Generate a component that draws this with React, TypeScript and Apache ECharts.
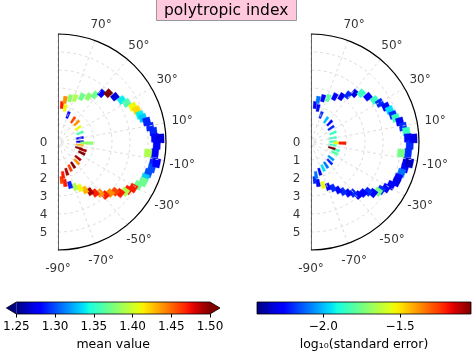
import React, { useEffect, useRef } from 'react';
import * as echarts from 'echarts';

// ---- data ----
const titleText = 'polytropic index';
const angleTickMin = -90;
const angleTickMax = 90;
const angleTickStep = 20;
const angleLabels = [-90, -70, -50, -30, -10, 10, 30, 50, 70];
const radiusMax = 6;
const radiusTicks = [0, 1, 2, 3, 4, 5];

// cell centres: angle (deg) and radius
const cellTheta = [84, 80.5, 74.6, 68.9, 62.4, 56.2, 51.8, 48.1, 44.1, 38.5, 33.4, 29.6, 25.2, 22.1, 18.2, 15.8, 12.9, 9.4, 6.2, 2.4, -1.7,
  -6.5, -11.7, -15.5, -18.9, -22.5, -25, -28.3, -31.5, -34.4, -36.6, -39.4, -41.1, -44.4, -48.4, -50.5, -54, -57.2, -60.6, -64.4, -69.2, -74.4, -80.3, -84.4,
  -81.4, -73.7, -65.2, -56.9, -46.5, -38.7, -24.9, -17.7, -7.8, 0.8, 10.3, 22.2, 35, 45.5, 55.7, 69.7, 78.4,
  -7, -12, 2, -2, -2, -16];
const cellR = [2.07, 2.37, 2.52, 2.62, 2.84, 3.03, 3.32, 3.63, 3.89, 4.04, 4.24, 4.39, 4.6, 4.72, 4.8, 4.9, 5.06, 5.18, 5.33, 5.39, 5.49,
  5.42, 5.41, 5.4, 5.3, 5.23, 5.23, 5.05, 4.89, 4.71, 4.63, 4.46, 4.2, 4.05, 3.94, 3.67, 3.5, 3.28, 3.06, 2.83, 2.66, 2.48, 2.31, 2.12,
  1.85, 1.72, 1.59, 1.53, 1.51, 1.42, 1.45, 1.46, 1.23, 1.22, 1.24, 1.32, 1.36, 1.48, 1.48, 1.6, 1.93,
  5.04, 5.6, 5.7, 1.45, 1.75, 1.2];
const meanValues = [1.47, 1.44, 1.38, 1.39, 1.37, 1.38, 1.37, 1.28, 1.5, 1.27, 1.34, 1.36, 1.41, 1.42, 1.34, 1.33, 1.29, 1.29, 1.29, 1.28, 1.28,
  1.28, 1.29, 1.30, 1.30, 1.33, 1.37, 1.37, 1.47, 1.47, 1.39, 1.47, 1.46, 1.44, 1.47, 1.44, 1.47, 1.49, 1.43, 1.41, 1.39, 1.29, 1.47, 1.46,
  1.47, 1.49, 1.46, 1.5, 1.44, 1.49, 1.5, 1.49, 1.43, 1.27, 1.28, 1.36, 1.41, 1.44, 1.46, 1.28, 1.41,
  1.39, 1.28, 1.27, 1.38, 1.38, 1.5];
const logStdErr = [-2.25, -2.1, -2.25, -1.8, -2.25, -2.3, -2.2, -2.3, -1.85, -2.25, -1.85, -2.2, -2.25, -1.95, -2.2, -1.85, -2.25, -2.2, -1.85, -2.25, -2.2,
  -2.2, -2.3, -2.25, -2.1, -2.25, -2.3, -2.25, -2.25, -2.2, -1.75, -2.25, -2.2, -2.25, -2.25, -2.2, -2.25, -2.2, -2.25, -2.2, -2.25, -1.55, -2.25, -2.2,
  -2.1, -2.25, -1.95, -2.1, -2.2, -2.05, -1.8, -1.85, -1.85, -1.85, -1.85, -1.85, -2.2, -2.25, -2.0, -2.2, -2.25,
  -1.75, -2.35, -2.3, -1.55, -1.2, -1.04];

const meanRange = [1.25, 1.5];
const meanTicks = [1.25, 1.3, 1.35, 1.4, 1.45, 1.5];
const errRange = [-2.43, -1.04];
const errTicks = [-2.0, -1.5];
const meanLabel = 'mean value';
const errLabel = 'log₁₀(standard error)';

// ---- styling constants ----
const CELL_DTHETA = 5;
const CELL_DR = 0.4;
const LABEL_R = 7.0;
const FONT = 'DejaVu Sans';

const JR = [[0, 0], [0.35, 0], [0.66, 1], [0.89, 1], [1, 0.5]];
const JG = [[0, 0], [0.125, 0], [0.375, 1], [0.64, 1], [0.91, 0], [1, 0]];
const JB = [[0, 0.5], [0.11, 1], [0.34, 1], [0.65, 0], [1, 0]];
function seg(pts: number[][], t: number) {
  for (let i = 1; i < pts.length; i++) {
    if (t <= pts[i][0]) {
      const [x0, y0] = pts[i - 1];
      const [x1, y1] = pts[i];
      return y0 + ((t - x0) / (x1 - x0)) * (y1 - y0);
    }
  }
  return pts[pts.length - 1][1];
}
function jet(t: number) {
  const c = (v: number) => Math.round(Math.max(0, Math.min(1, v)) * 255);
  return `rgb(${c(seg(JR, t))},${c(seg(JG, t))},${c(seg(JB, t))})`;
}
const jetColors = Array.from({ length: 41 }, (_, i) => jet(i / 40));
const jetGradient = {
  type: 'linear', x: 0, y: 0, x2: 1, y2: 0,
  colorStops: jetColors.map((c, i) => ({ offset: i / 40, color: c })),
};

function cellRender(params: any, api: any) {
  const cs = params.coordSys;
  const cx = cs.cx, cy = cs.cy;
  const r = api.value(0), th = api.value(1);
  const pIn = api.coord([r - CELL_DR / 2, th]);
  const pOut = api.coord([r + CELL_DR / 2, th]);
  const pA = api.coord([r, th - CELL_DTHETA / 2]);
  const pB = api.coord([r, th + CELL_DTHETA / 2]);
  const r0 = Math.hypot(pIn[0] - cx, pIn[1] - cy);
  const r1 = Math.hypot(pOut[0] - cx, pOut[1] - cy);
  const a1 = Math.atan2(pA[1] - cy, pA[0] - cx);
  const a2 = Math.atan2(pB[1] - cy, pB[0] - cx);
  const color = api.visual('color');
  return {
    type: 'sector',
    shape: { cx, cy, r0, r: r1, startAngle: Math.min(a1, a2), endAngle: Math.max(a1, a2), clockwise: true },
    style: { fill: color, stroke: color, lineWidth: 0.3 },
  };
}

function makeBarRender(arrows: boolean) {
  return (params: any, api: any) => {
    const p0 = api.coord([api.value(0), 0]);
    const p1 = api.coord([api.value(1), 1]);
    const x0 = p0[0], x1 = p1[0];
    const yb = p0[1], yt = p1[1];
    const ym = (yb + yt) / 2;
    const children: any[] = [
      { type: 'rect', shape: { x: x0, y: yt, width: x1 - x0, height: yb - yt }, style: { fill: jetGradient } },
    ];
    if (arrows) {
      children.push(
        { type: 'polygon', shape: { points: [[x0, yt], [x0, yb], [x0 - 10, ym]] }, style: { fill: jet(0) } },
        { type: 'polygon', shape: { points: [[x1, yt], [x1, yb], [x1 + 10, ym]] }, style: { fill: jet(1) } },
        { type: 'polygon', shape: { points: [[x0, yt], [x1, yt], [x1 + 10, ym], [x1, yb], [x0, yb], [x0 - 10, ym]] }, style: { fill: 'none', stroke: '#000', lineWidth: 0.8 } },
      );
    } else {
      children.push({ type: 'rect', shape: { x: x0, y: yt, width: x1 - x0, height: yb - yt }, style: { fill: 'none', stroke: '#000', lineWidth: 0.8 } });
    }
    return { type: 'group', children };
  };
}

const gridLine = { show: true, lineStyle: { color: '#d3d3d3', type: [3, 3], width: 0.8 } };

function polarAxes(i: number) {
  return {
    angle: {
      polarIndex: i, type: 'value', min: angleTickMin, max: angleTickMax, interval: angleTickStep,
      startAngle: -90, endAngle: 90, clockwise: false,
      axisLine: { show: true, lineStyle: { color: '#000', width: 1.2 } },
      axisTick: { show: false },
      axisLabel: { show: false },
      splitLine: gridLine,
      z: 5,
    },
    radius: {
      polarIndex: i, type: 'value', min: 0, max: radiusMax, interval: 1,
      axisLine: { show: false }, axisTick: { show: false },
      axisLabel: { show: false },
      splitLine: gridLine,
      z: 1,
    },
  };
}

function angleLabelSeries(i: number) {
  return {
    type: 'scatter', coordinateSystem: 'polar', polarIndex: i, silent: true, clip: false,
    data: angleLabels.map((a) => [LABEL_R, a]),
    symbolSize: 1, itemStyle: { color: 'rgba(0,0,0,0)' },
    label: {
      show: true, position: 'inside', color: '#000', fontSize: 12, fontFamily: FONT,
      formatter: (p: any) => `${p.value[1]}°`,
    },
    labelLayout: { hideOverlap: false },
    z: 7,
  };
}

function radiusLabelSeries(i: number) {
  return {
    type: 'scatter', coordinateSystem: 'polar', polarIndex: i, silent: true, clip: false,
    data: radiusTicks.map((r) => [r, angleTickMin]),
    symbolSize: 1, itemStyle: { color: 'rgba(0,0,0,0)' },
    label: {
      show: true, position: 'left', distance: 10, color: '#000', fontSize: 12, fontFamily: FONT,
      formatter: (p: any) => `${p.value[0]}`,
    },
    z: 7,
  };
}

export default function App() {
  const ref = useRef<HTMLDivElement>(null);
  useEffect(() => {
    if (!ref.current) return;
    const chart = echarts.init(ref.current, undefined, { renderer: 'svg' });
    const a0 = polarAxes(0), a1 = polarAxes(1);
    const cellData = (vals: number[]) => cellR.map((r, k) => [r, cellTheta[k], vals[k]]);
    const diameter = [[radiusMax, angleTickMax], [radiusMax, angleTickMin]];
    chart.setOption({
      animation: false,
      textStyle: { fontFamily: FONT },
      title: {
        text: titleText, left: 156, top: -1,
        backgroundColor: '#ffc8dc', borderColor: '#999', borderWidth: 1, padding: [3, 8],
        textStyle: { fontSize: 15.5, fontWeight: 'normal', color: '#000', fontFamily: FONT },
      },
      polar: [
        { center: [58, 142], radius: [0, 108] },
        { center: [311, 142], radius: [0, 108] },
      ],
      angleAxis: [a0.angle, a1.angle],
      radiusAxis: [a0.radius, a1.radius],
      grid: [
        { left: 13, top: 302, width: 197, height: 12 },
        { left: 257, top: 302, width: 214, height: 12 },
      ],
      xAxis: [
        {
          gridIndex: 0, type: 'value', min: meanRange[0], max: meanRange[1],
          axisLine: { show: false }, splitLine: { show: false },
          axisTick: { show: true, length: 3.5, lineStyle: { color: '#000' }, customValues: meanTicks },
          axisLabel: { customValues: meanTicks, formatter: (v: number) => v.toFixed(2), fontSize: 12, color: '#000', fontFamily: FONT, margin: 6 },
          name: meanLabel, nameLocation: 'middle', nameGap: 23,
          nameTextStyle: { fontSize: 12.5, color: '#000', fontFamily: FONT },
        },
        {
          gridIndex: 1, type: 'value', min: errRange[0], max: errRange[1],
          axisLine: { show: false }, splitLine: { show: false },
          axisTick: { show: true, length: 3.5, lineStyle: { color: '#000' }, customValues: errTicks },
          axisLabel: {
            customValues: errTicks,
            formatter: (v: number) => (v < 0 ? '\u2212' : '') + Math.abs(v).toFixed(1),
            fontSize: 12, color: '#000', fontFamily: FONT, margin: 6,
          },
          name: errLabel, nameLocation: 'middle', nameGap: 23,
          nameTextStyle: { fontSize: 12.5, color: '#000', fontFamily: FONT },
        },
      ],
      yAxis: [
        { gridIndex: 0, type: 'value', min: 0, max: 1, show: false },
        { gridIndex: 1, type: 'value', min: 0, max: 1, show: false },
      ],
      visualMap: [
        { type: 'continuous', show: false, seriesIndex: 1, dimension: 2, min: meanRange[0], max: meanRange[1], inRange: { color: jetColors } },
        { type: 'continuous', show: false, seriesIndex: 3, dimension: 2, min: errRange[0], max: errRange[1], inRange: { color: jetColors } },
      ],
      series: [
        { type: 'line', coordinateSystem: 'polar', polarIndex: 0, data: diameter, symbol: 'none', lineStyle: { color: '#000', width: 1.2 }, z: 6, silent: true },
        { type: 'custom', coordinateSystem: 'polar', polarIndex: 0, data: cellData(meanValues), renderItem: cellRender, z: 4 },
        { type: 'line', coordinateSystem: 'polar', polarIndex: 1, data: diameter, symbol: 'none', lineStyle: { color: '#000', width: 1.2 }, z: 6, silent: true },
        { type: 'custom', coordinateSystem: 'polar', polarIndex: 1, data: cellData(logStdErr), renderItem: cellRender, z: 4 },
        { type: 'custom', xAxisIndex: 0, yAxisIndex: 0, data: [meanRange], renderItem: makeBarRender(true), silent: true },
        { type: 'custom', xAxisIndex: 1, yAxisIndex: 1, data: [errRange], renderItem: makeBarRender(false), silent: true },
        angleLabelSeries(0),
        angleLabelSeries(1),
        radiusLabelSeries(0),
        radiusLabelSeries(1),
      ],
    });
    return () => chart.dispose();
  }, []);
  return <div ref={ref} style={{ position: 'fixed', left: 0, top: 0, width: 474, height: 354 }} />;
}
